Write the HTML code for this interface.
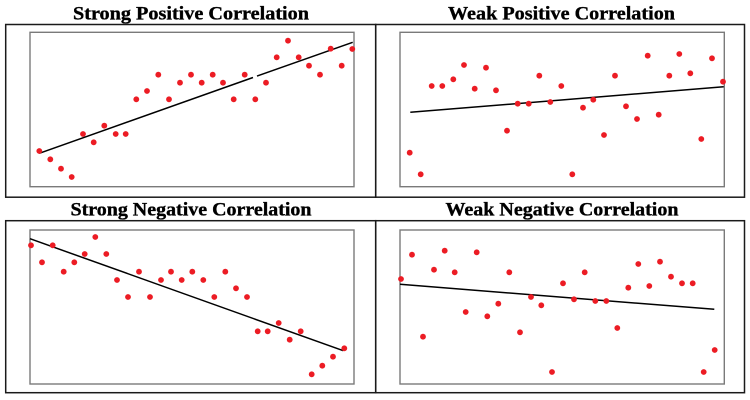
<!DOCTYPE html>
<html>
<head>
<meta charset="utf-8">
<style>
html,body{margin:0;padding:0;background:#fff;}
svg{display:block;}
text{font-family:"Liberation Serif",serif;font-weight:bold;font-size:18.5px;fill:#000;stroke:#000;stroke-width:0.35px;}
</style>
</head>
<body>
<svg width="750" height="400" viewBox="0 0 750 400" xmlns="http://www.w3.org/2000/svg">
<rect x="0" y="0" width="750" height="400" fill="#fff"/>
<!-- titles -->
<text x="191" y="19.5" text-anchor="middle" textLength="236" lengthAdjust="spacingAndGlyphs">Strong Positive Correlation</text>
<text x="561.5" y="19.5" text-anchor="middle" textLength="227" lengthAdjust="spacingAndGlyphs">Weak Positive Correlation</text>
<text x="191" y="215.5" text-anchor="middle" textLength="241" lengthAdjust="spacingAndGlyphs">Strong Negative Correlation</text>
<text x="562" y="215.5" text-anchor="middle" textLength="233" lengthAdjust="spacingAndGlyphs">Weak Negative Correlation</text>

<!-- outer boxes -->
<g fill="none" stroke="#1a1a1a" stroke-width="1.5">
<rect x="5.7" y="24.5" width="370" height="172.7"/>
<rect x="375.7" y="24.5" width="368.8" height="172.7"/>
<rect x="5.7" y="220.7" width="370" height="172"/>
<rect x="375.7" y="220.7" width="368.8" height="172"/>
</g>
<!-- inner boxes -->
<g fill="none" stroke="#7a7a7a" stroke-width="1.4">
<rect x="30" y="32.3" width="324" height="154.4"/>
<rect x="400" y="32.3" width="324.3" height="154.4"/>
<rect x="30" y="230" width="324" height="154"/>
<rect x="400" y="230" width="324.3" height="154"/>
</g>

<!-- trend lines -->
<g stroke="#000" stroke-width="1.5" fill="none">
<line x1="39.3" y1="153.3" x2="253" y2="77.5"/>
<line x1="257" y1="76.1" x2="352.7" y2="42.3"/>
<line x1="410.3" y1="112.3" x2="723.7" y2="86.7"/>
<line x1="30" y1="238.7" x2="343.3" y2="350.7"/>
<line x1="400" y1="284.3" x2="714.3" y2="309.3"/>
</g>

<!-- dots -->
<g fill="#ec1c24">
<!-- Q1 -->
<circle cx="39.3" cy="151" r="2.9"/>
<circle cx="50.3" cy="159.3" r="2.9"/>
<circle cx="61" cy="168.7" r="2.9"/>
<circle cx="71.7" cy="177" r="2.9"/>
<circle cx="83" cy="134" r="2.9"/>
<circle cx="93.7" cy="142.3" r="2.9"/>
<circle cx="104.3" cy="125.7" r="2.9"/>
<circle cx="115.7" cy="134" r="2.9"/>
<circle cx="125.7" cy="134" r="2.9"/>
<circle cx="136.3" cy="99.3" r="2.9"/>
<circle cx="147" cy="91" r="2.9"/>
<circle cx="158.3" cy="74.7" r="2.9"/>
<circle cx="169" cy="99.3" r="2.9"/>
<circle cx="180" cy="82.7" r="2.9"/>
<circle cx="191" cy="74.7" r="2.9"/>
<circle cx="201.7" cy="82.7" r="2.9"/>
<circle cx="212.7" cy="74.7" r="2.9"/>
<circle cx="223" cy="82.7" r="2.9"/>
<circle cx="233.7" cy="99.3" r="2.9"/>
<circle cx="244.7" cy="74.7" r="2.9"/>
<circle cx="255.3" cy="99.3" r="2.9"/>
<circle cx="266" cy="82.7" r="2.9"/>
<circle cx="276.7" cy="57.3" r="2.9"/>
<circle cx="288" cy="40.7" r="2.9"/>
<circle cx="298.7" cy="57.3" r="2.9"/>
<circle cx="309" cy="65.7" r="2.9"/>
<circle cx="320" cy="74.7" r="2.9"/>
<circle cx="330.7" cy="48.7" r="2.9"/>
<circle cx="341.7" cy="65.7" r="2.9"/>
<circle cx="352.3" cy="49" r="2.9"/>
<!-- Q2 -->
<circle cx="409.7" cy="152.7" r="2.9"/>
<circle cx="420.7" cy="174.3" r="2.9"/>
<circle cx="431.7" cy="86" r="2.9"/>
<circle cx="442.3" cy="86" r="2.9"/>
<circle cx="453.3" cy="79.3" r="2.9"/>
<circle cx="464" cy="65" r="2.9"/>
<circle cx="474.7" cy="88.7" r="2.9"/>
<circle cx="486" cy="67.7" r="2.9"/>
<circle cx="496" cy="90.3" r="2.9"/>
<circle cx="507" cy="130.7" r="2.9"/>
<circle cx="517.7" cy="103.7" r="2.9"/>
<circle cx="528.7" cy="103.7" r="2.9"/>
<circle cx="539.3" cy="75.7" r="2.9"/>
<circle cx="550.3" cy="102" r="2.9"/>
<circle cx="561.3" cy="86" r="2.9"/>
<circle cx="572.3" cy="174.3" r="2.9"/>
<circle cx="583" cy="107.7" r="2.9"/>
<circle cx="593.3" cy="99.7" r="2.9"/>
<circle cx="604" cy="135" r="2.9"/>
<circle cx="615" cy="75.7" r="2.9"/>
<circle cx="626" cy="106.3" r="2.9"/>
<circle cx="637" cy="119" r="2.9"/>
<circle cx="647.7" cy="55.7" r="2.9"/>
<circle cx="658.7" cy="114.7" r="2.9"/>
<circle cx="669.3" cy="75.7" r="2.9"/>
<circle cx="679.3" cy="54" r="2.9"/>
<circle cx="690.3" cy="73.3" r="2.9"/>
<circle cx="701.3" cy="139" r="2.9"/>
<circle cx="712" cy="58.3" r="2.9"/>
<circle cx="723" cy="81.7" r="2.9"/>
<!-- Q3 -->
<circle cx="31" cy="245.3" r="2.9"/>
<circle cx="42" cy="262.3" r="2.9"/>
<circle cx="52.7" cy="245.3" r="2.9"/>
<circle cx="63.7" cy="271.7" r="2.9"/>
<circle cx="74.3" cy="262.3" r="2.9"/>
<circle cx="84.7" cy="254" r="2.9"/>
<circle cx="95.3" cy="237" r="2.9"/>
<circle cx="106.3" cy="254" r="2.9"/>
<circle cx="117" cy="280" r="2.9"/>
<circle cx="128" cy="297" r="2.9"/>
<circle cx="139" cy="271.7" r="2.9"/>
<circle cx="150" cy="297" r="2.9"/>
<circle cx="161" cy="280" r="2.9"/>
<circle cx="171" cy="271.7" r="2.9"/>
<circle cx="181.7" cy="280" r="2.9"/>
<circle cx="192.3" cy="271.7" r="2.9"/>
<circle cx="203.3" cy="280" r="2.9"/>
<circle cx="214.3" cy="297" r="2.9"/>
<circle cx="225.3" cy="271.7" r="2.9"/>
<circle cx="236" cy="288.3" r="2.9"/>
<circle cx="247" cy="297" r="2.9"/>
<circle cx="257.7" cy="331.3" r="2.9"/>
<circle cx="267.7" cy="331.3" r="2.9"/>
<circle cx="278.7" cy="323" r="2.9"/>
<circle cx="289.7" cy="339.7" r="2.9"/>
<circle cx="300.7" cy="331.3" r="2.9"/>
<circle cx="311.7" cy="374.3" r="2.9"/>
<circle cx="322.3" cy="365.7" r="2.9"/>
<circle cx="333" cy="356.7" r="2.9"/>
<circle cx="344.3" cy="348.3" r="2.9"/>
<!-- Q4 -->
<circle cx="401" cy="279" r="2.9"/>
<circle cx="412" cy="254.7" r="2.9"/>
<circle cx="423" cy="336.7" r="2.9"/>
<circle cx="434" cy="269.7" r="2.9"/>
<circle cx="444.7" cy="250.7" r="2.9"/>
<circle cx="454.7" cy="272.3" r="2.9"/>
<circle cx="465.7" cy="312" r="2.9"/>
<circle cx="476.7" cy="252.3" r="2.9"/>
<circle cx="487.3" cy="316.3" r="2.9"/>
<circle cx="498.3" cy="303.7" r="2.9"/>
<circle cx="509.3" cy="272.3" r="2.9"/>
<circle cx="520" cy="332.3" r="2.9"/>
<circle cx="531" cy="297" r="2.9"/>
<circle cx="541.3" cy="305.3" r="2.9"/>
<circle cx="552" cy="372" r="2.9"/>
<circle cx="563" cy="283.3" r="2.9"/>
<circle cx="574" cy="299.3" r="2.9"/>
<circle cx="584.7" cy="272.3" r="2.9"/>
<circle cx="595.3" cy="301" r="2.9"/>
<circle cx="606.3" cy="301" r="2.9"/>
<circle cx="617.3" cy="328" r="2.9"/>
<circle cx="628.3" cy="287.7" r="2.9"/>
<circle cx="638.3" cy="264" r="2.9"/>
<circle cx="649.3" cy="286" r="2.9"/>
<circle cx="660" cy="261.7" r="2.9"/>
<circle cx="671" cy="276.7" r="2.9"/>
<circle cx="682" cy="283.3" r="2.9"/>
<circle cx="692.7" cy="283.3" r="2.9"/>
<circle cx="703.7" cy="372" r="2.9"/>
<circle cx="714.7" cy="350" r="2.9"/>
</g>
</svg>
</body>
</html>
